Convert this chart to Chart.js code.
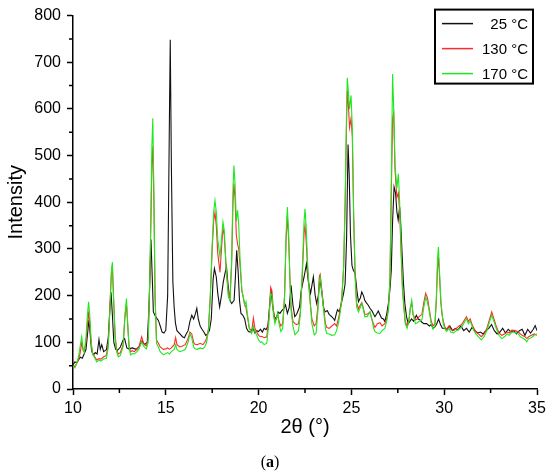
<!DOCTYPE html>
<html>
<head>
<meta charset="utf-8">
<title>XRD patterns</title>
<script src="https://cdn.jsdelivr.net/npm/chart.js@4.4.0/dist/chart.umd.min.js"></script>
<style>
	html, body { margin: 0; padding: 0; background: #ffffff; }
	#wrap { width: 550px; height: 473px; }
</style>
</head>
<body>
<div id="wrap"><canvas id="xrd-chart" width="550" height="473"></canvas></div>
<script>
// 2theta positions for the 25 °C scan
var xRoom = [
	10.0, 10.1, 10.2, 10.3, 10.4, 10.5, 10.6, 10.7, 10.8, 10.86,
	10.92, 11.0, 11.1, 11.2, 11.3, 11.4, 11.47, 11.55, 11.65, 11.8,
	11.9, 12.0, 12.05, 12.12, 12.2, 12.3, 12.4, 12.55, 12.7, 12.78,
	12.9, 13.0, 13.2, 13.4, 13.55, 13.72, 13.85, 14.0, 14.1, 14.2,
	14.27, 14.33, 14.45, 14.6, 14.7, 14.8, 14.9, 15.0, 15.1, 15.2,
	15.24, 15.3, 15.38, 15.45, 15.52, 15.6, 15.76, 15.9, 16.0, 16.1,
	16.2, 16.3, 16.4, 16.5, 16.6, 16.67, 16.75, 16.85, 16.95, 17.05,
	17.15, 17.25, 17.35, 17.45, 17.55, 17.62, 17.72, 17.8, 17.9, 18.0,
	18.1, 18.2, 18.27, 18.35, 18.45, 18.55, 18.68, 18.75, 18.82, 18.9,
	18.97, 19.05, 19.15, 19.25, 19.35, 19.45, 19.55, 19.7, 19.8, 19.9,
	20.0, 20.1, 20.2, 20.3, 20.4, 20.5, 20.6, 20.67, 20.75, 20.85,
	20.95, 21.05, 21.15, 21.25, 21.35, 21.45, 21.55, 21.65, 21.75, 21.85,
	21.95, 22.05, 22.2, 22.3, 22.45, 22.58, 22.68, 22.8, 22.95, 23.05,
	23.13, 23.22, 23.3, 23.4, 23.5, 23.58, 23.7, 23.8, 23.94, 24.05,
	24.1, 24.18, 24.25, 24.35, 24.48, 24.58, 24.66, 24.74, 24.82, 24.88,
	24.95, 25.03, 25.1, 25.2, 25.3, 25.38, 25.48, 25.56, 25.65, 25.72,
	25.8, 25.9, 26.0, 26.1, 26.2, 26.27, 26.35, 26.45, 26.55, 26.62,
	26.72, 26.8, 26.9, 27.0, 27.08, 27.15, 27.22, 27.3, 27.38, 27.45,
	27.52, 27.6, 27.65, 27.72, 27.8, 27.88, 27.97, 28.06, 28.15, 28.24,
	28.35, 28.5, 28.6, 28.7, 28.77, 28.9, 29.05, 29.2, 29.3, 29.4,
	29.5, 29.6, 29.7, 29.8, 29.9, 30.0, 30.15, 30.3, 30.45, 30.6,
	30.75, 30.9, 31.05, 31.2, 31.35, 31.5, 31.65, 31.8, 31.95, 32.1,
	32.25, 32.4, 32.55, 32.7, 32.85, 33.0, 33.15, 33.3, 33.45, 33.6,
	33.75, 33.9, 34.05, 34.2, 34.35, 34.5, 34.65, 34.8, 34.9, 35.0,
];
var y25 = [
	52, 58, 56, 63, 68, 66, 75, 85, 125, 148,
	120, 82, 73, 78, 75, 106, 85, 95, 80, 84,
	110, 180, 207, 160, 100, 85, 83, 90, 105, 108,
	88, 86, 88, 85, 90, 103, 95, 100, 180, 320,
	240, 165, 155, 147, 135, 122, 120, 126, 200, 600,
	748, 480, 230, 175, 141, 125, 118, 112, 110, 118,
	125, 145, 158, 150, 162, 173, 150, 135, 128, 122,
	115, 118, 125, 150, 235, 258, 240, 205, 176, 200,
	230, 250, 262, 225, 190, 183, 190, 240, 297, 250,
	190, 162, 158, 150, 130, 123, 122, 130, 120, 125,
	123, 128, 122, 130, 127, 135, 180, 212, 180, 155,
	150, 165, 162, 168, 172, 180, 162, 175, 222, 180,
	155, 160, 175, 212, 240, 268, 230, 205, 240, 200,
	183, 200, 237, 210, 175, 165, 168, 160, 155, 150,
	147, 160, 170, 165, 187, 205, 225, 320, 524, 460,
	330, 265, 255, 248, 210, 187, 195, 208, 200, 190,
	185, 180, 173, 168, 160, 155, 160, 167, 158, 152,
	150, 145, 160, 185, 215, 255, 360, 433, 420, 380,
	362, 390, 360, 300, 230, 183, 155, 140, 145, 150,
	145, 158, 150, 148, 144, 140, 140, 135, 138, 130,
	133, 140, 150, 138, 130, 130, 128, 135, 125, 130,
	127, 135, 125, 130, 122, 132, 125, 120, 122, 118,
	125, 130, 138, 125, 118, 122, 130, 120, 128, 122,
	125, 118, 125, 128, 115, 128, 120, 128, 136, 125,
];

// 2theta positions shared by the two heated scans
var xHeated = [
	10.0, 10.1, 10.2, 10.3, 10.4, 10.47, 10.55, 10.6, 10.7, 10.78,
	10.84, 10.9, 10.98, 11.05, 11.15, 11.28, 11.4, 11.5, 11.6, 11.7,
	11.8, 11.9, 12.0, 12.07, 12.12, 12.18, 12.27, 12.35, 12.44, 12.55,
	12.7, 12.8, 12.88, 12.95, 13.02, 13.1, 13.2, 13.3, 13.45, 13.55,
	13.7, 13.8, 13.95, 14.05, 14.15, 14.25, 14.3, 14.36, 14.42, 14.5,
	14.6, 14.7, 14.87, 15.0, 15.1, 15.2, 15.3, 15.45, 15.53, 15.6,
	15.75, 15.9, 16.05, 16.2, 16.3, 16.4, 16.5, 16.57, 16.7, 16.85,
	17.0, 17.1, 17.2, 17.3, 17.4, 17.5, 17.58, 17.65, 17.72, 17.8,
	17.92, 18.0, 18.08, 18.15, 18.25, 18.37, 18.46, 18.55, 18.62, 18.67,
	18.73, 18.8, 18.87, 18.93, 19.0, 19.1, 19.18, 19.25, 19.32, 19.4,
	19.5, 19.63, 19.72, 19.8, 19.9, 20.0, 20.1, 20.17, 20.3, 20.44,
	20.55, 20.65, 20.72, 20.8, 20.88, 20.95, 21.03, 21.1, 21.2, 21.3,
	21.4, 21.48, 21.55, 21.62, 21.7, 21.75, 21.85, 21.96, 22.05, 22.15,
	22.25, 22.35, 22.45, 22.5, 22.56, 22.65, 22.77, 22.87, 23.0, 23.1,
	23.2, 23.27, 23.32, 23.4, 23.5, 23.6, 23.67, 23.8, 23.95, 24.1,
	24.2, 24.3, 24.4, 24.48, 24.58, 24.66, 24.74, 24.78, 24.85, 24.9,
	24.98, 25.05, 25.12, 25.2, 25.28, 25.38, 25.48, 25.56, 25.65, 25.72,
	25.85, 26.0, 26.1, 26.2, 26.27, 26.4, 26.54, 26.65, 26.8, 26.9,
	27.0, 27.08, 27.15, 27.22, 27.28, 27.35, 27.45, 27.53, 27.6, 27.68,
	27.75, 27.82, 27.9, 28.0, 28.1, 28.18, 28.25, 28.32, 28.45, 28.55,
	28.65, 28.8, 28.9, 29.0, 29.1, 29.2, 29.3, 29.4, 29.5, 29.58,
	29.64, 29.69, 29.75, 29.82, 29.88, 29.95, 30.05, 30.13, 30.25, 30.35,
	30.5, 30.65, 30.8, 30.94, 31.05, 31.2, 31.3, 31.4, 31.5, 31.6,
	31.7, 31.84, 32.0, 32.15, 32.3, 32.45, 32.56, 32.68, 32.8, 32.95,
	33.1, 33.25, 33.4, 33.5, 33.65, 33.83, 34.0, 34.1, 34.2, 34.35,
	34.45, 34.55, 34.7, 34.85, 35.0,
];
var y130 = [
	50, 48, 55, 62, 80, 100, 82, 80, 100, 140,
	162, 145, 98, 78, 70, 62, 65, 64, 67, 70,
	72, 95, 190, 250, 265, 200, 115, 85, 75, 78,
	95, 155, 182, 135, 92, 80, 82, 80, 85, 90,
	112, 98, 92, 105, 250, 480, 520, 400, 200, 105,
	98, 90, 85, 86, 88, 85, 88, 95, 110, 95,
	90, 92, 95, 108, 122, 118, 100, 96, 95, 98,
	95, 100, 108, 130, 200, 300, 360, 378, 350, 290,
	250, 300, 345, 330, 260, 205, 195, 270, 400, 440,
	410, 330, 310, 300, 265, 210, 195, 180, 175, 155,
	130, 125, 152, 130, 122, 115, 112, 113, 110, 112,
	150, 218, 210, 165, 145, 150, 160, 145, 135, 140,
	200, 320, 370, 320, 220, 175, 145, 140, 138, 140,
	165, 240, 335, 350, 320, 250, 190, 150, 135, 140,
	180, 240, 245, 215, 175, 140, 132, 130, 135, 140,
	135, 150, 170, 195, 260, 390, 570, 640, 600, 560,
	580, 540, 370, 245, 185, 172, 180, 185, 172, 160,
	160, 165, 150, 138, 132, 140, 142, 135, 140, 150,
	175, 240, 420, 580, 590, 470, 410, 420, 380, 290,
	215, 180, 145, 135, 148, 175, 185, 160, 148, 150,
	155, 160, 185, 205, 195, 170, 145, 135, 140, 190,
	260, 282, 240, 185, 160, 145, 132, 128, 135, 128,
	125, 130, 135, 138, 145, 155, 145, 150, 138, 130,
	122, 118, 112, 118, 130, 150, 165, 150, 135, 120,
	115, 118, 122, 120, 126, 125, 122, 118, 115, 112,
	108, 112, 115, 118, 115,
];
var y170 = [
	48, 45, 55, 70, 95, 112, 85, 78, 110, 160,
	187, 160, 100, 75, 68, 58, 62, 60, 63, 65,
	66, 90, 180, 250, 272, 200, 110, 80, 69, 72,
	90, 160, 194, 140, 90, 73, 76, 75, 80, 85,
	101, 92, 86, 100, 260, 520, 580, 420, 200, 98,
	90, 80, 73, 76, 78, 75, 80, 85, 95, 85,
	80, 82, 85, 100, 118, 110, 90, 86, 85, 88,
	86, 90, 100, 126, 200, 310, 380, 404, 380, 320,
	283, 320, 358, 340, 260, 197, 190, 280, 430, 479,
	440, 360, 383, 350, 280, 210, 197, 180, 187, 160,
	130, 119, 135, 122, 115, 105, 100, 101, 95, 98,
	140, 205, 200, 160, 140, 150, 162, 140, 123, 130,
	200, 330, 390, 330, 220, 169, 135, 116, 120, 125,
	160, 250, 360, 386, 350, 260, 190, 140, 116, 120,
	170, 230, 240, 210, 170, 130, 119, 118, 115, 116,
	125, 140, 165, 190, 260, 400, 600, 667, 630, 600,
	629, 560, 380, 240, 176, 165, 175, 183, 170, 155,
	155, 165, 150, 130, 123, 120, 119, 125, 130, 145,
	170, 240, 450, 675, 600, 480, 430, 461, 400, 300,
	220, 180, 140, 130, 145, 175, 190, 160, 140, 142,
	145, 148, 175, 197, 185, 165, 140, 128, 135, 200,
	280, 304, 250, 190, 165, 140, 128, 123, 130, 122,
	120, 125, 128, 133, 140, 151, 140, 145, 135, 125,
	118, 112, 105, 112, 125, 145, 158, 145, 130, 115,
	108, 112, 118, 115, 122, 121, 118, 112, 110, 106,
	101, 108, 110, 115, 118,
];
var seriesLabels = ["25 °C", "130 °C", "170 °C"];
var seriesColors = ["#111111", "#ff2a2a", "#1ee81e"];

var sansFont = 'Arial, "Liberation Sans", Helvetica, sans-serif';
Chart.defaults.font.family = sansFont;
Chart.defaults.color = "#000000";

function toPoints(xs, ys) {
	return xs.map(function (x, i) {
		return { x: x, y: ys[i] };
	});
}

// minor ticks, boxed legend and the panel letter
var extrasPlugin = {
	id: "extras",
	afterDraw: function (chart) {
		var ctx = chart.ctx;
		var xs = chart.scales.x;
		var ys = chart.scales.y;
		var area = chart.chartArea;
		ctx.save();
		ctx.strokeStyle = "#000000";
		ctx.lineWidth = 1.5;
		ctx.beginPath();
		for (var i = 0; i < xs.ticks.length - 1; i++) {
			var px = xs.getPixelForValue((xs.ticks[i].value + xs.ticks[i + 1].value) / 2);
			ctx.moveTo(px, area.bottom);
			ctx.lineTo(px, area.bottom + 4);
		}
		for (var j = 0; j < ys.ticks.length - 1; j++) {
			var py = ys.getPixelForValue((ys.ticks[j].value + ys.ticks[j + 1].value) / 2);
			ctx.moveTo(area.left, py);
			ctx.lineTo(area.left - 4, py);
		}
		ctx.stroke();

		// legend
		var boxW = 98, boxH = 74;
		var boxX = area.right - 4 - boxW;
		var boxY = area.top - 6;
		ctx.lineWidth = 2;
		ctx.strokeRect(boxX, boxY, boxW, boxH);
		ctx.font = "15px " + sansFont;
		ctx.textAlign = "right";
		ctx.textBaseline = "middle";
		chart.data.datasets.forEach(function (ds, k) {
			var rowY = boxY + 14 + k * 25;
			ctx.strokeStyle = ds.borderColor;
			ctx.lineWidth = 1.5;
			ctx.beginPath();
			ctx.moveTo(boxX + 7, rowY);
			ctx.lineTo(boxX + 38, rowY);
			ctx.stroke();
			ctx.fillStyle = "#000000";
			ctx.fillText(ds.label, boxX + boxW - 5, rowY + 1);
		});

		// (a)
		var serif = '"Liberation Serif", "DejaVu Serif", serif';
		ctx.textAlign = "left";
		ctx.textBaseline = "alphabetic";
		ctx.font = "16px " + serif;
		var wOpen = ctx.measureText("(").width;
		var wClose = ctx.measureText(")").width;
		ctx.font = "bold 16px " + serif;
		var wA = ctx.measureText("a").width;
		var startX = 270 - (wOpen + wA + wClose) / 2;
		var baseY = 467;
		ctx.font = "16px " + serif;
		ctx.fillText("(", startX, baseY);
		ctx.font = "bold 16px " + serif;
		ctx.fillText("a", startX + wOpen, baseY);
		ctx.font = "16px " + serif;
		ctx.fillText(")", startX + wOpen + wA, baseY);
		ctx.restore();
	},
};

var ctx = document.getElementById("xrd-chart").getContext("2d");
var xrdChart = new Chart(ctx, {
	type: "line",
	data: {
		datasets: [
			{
				label: seriesLabels[0],
				data: toPoints(xRoom, y25),
				borderColor: seriesColors[0],
				order: 3,
			},
			{
				label: seriesLabels[1],
				data: toPoints(xHeated, y130),
				borderColor: seriesColors[1],
				order: 2,
			},
			{
				label: seriesLabels[2],
				data: toPoints(xHeated, y170),
				borderColor: seriesColors[2],
				order: 1,
			},
		],
	},
	options: {
		responsive: false,
		animation: false,
		layout: { padding: { left: 0, right: 13, top: 15, bottom: 0 } },
		elements: {
			line: { borderWidth: 1.1, tension: 0, fill: false },
			point: { radius: 0, hoverRadius: 0 },
		},
		plugins: {
			legend: { display: false },
			tooltip: { enabled: false },
		},
		scales: {
			x: {
				type: "linear",
				min: 10,
				max: 35,
				ticks: { stepSize: 5, font: { size: 16 }, padding: 4, maxRotation: 0, color: "#000000" },
				grid: { drawOnChartArea: false, tickLength: 6, tickWidth: 1.5, color: "#000000" },
				border: { display: true, color: "#000000", width: 1.5 },
				title: { display: true, text: "2θ (°)", font: { size: 20 }, color: "#000000", padding: { top: 0, bottom: 34 } },
				afterFit: function (scale) {
					scale.height = 84;
				},
			},
			y: {
				min: 0,
				max: 800,
				ticks: { stepSize: 100, font: { size: 16 }, padding: 6, color: "#000000" },
				grid: { drawOnChartArea: false, tickLength: 6, tickWidth: 1.5, color: "#000000" },
				border: { display: true, color: "#000000", width: 1.5 },
				title: { display: true, text: "Intensity", font: { size: 20 }, color: "#000000", padding: { top: 4, bottom: 0 } },
				afterFit: function (scale) {
					scale.width = 73;
				},
			},
		},
	},
	plugins: [extrasPlugin],
});
</script>
</body>
</html>
